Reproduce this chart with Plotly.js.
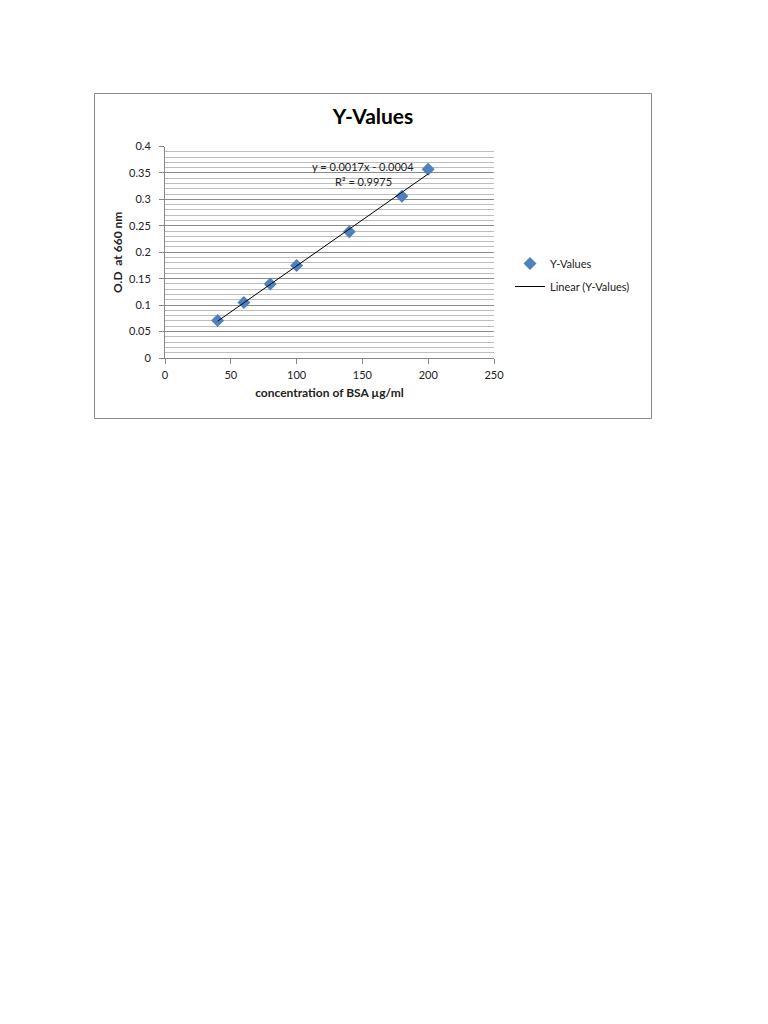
<!DOCTYPE html>
<html>
<head>
<meta charset="utf-8">
<script src="https://cdn.plot.ly/plotly-3.0.1.min.js"></script>
<style>html,body{margin:0;padding:0;background:#fff;}#chart{width:768px;height:1024px;}</style>
</head>
<body>
<div id="chart"></div>
<script>
const concentration = [40, 60, 80, 100, 140, 180, 200];
const odValues = [0.071, 0.105, 0.140, 0.175, 0.239, 0.306, 0.357];
const seriesName = 'Y-Values';
const trendName = 'Linear (Y-Values)';
const equationText = 'y = 0.0017x - 0.0004';
const r2Text = 'R² = 0.9975';
const xTicks = [0, 50, 100, 150, 200, 250];
const yTicks = [0, 0.05, 0.1, 0.15, 0.2, 0.25, 0.3, 0.35, 0.4];

// least-squares trendline from the data
const n = concentration.length;
const mx = concentration.reduce((a, b) => a + b, 0) / n;
const my = odValues.reduce((a, b) => a + b, 0) / n;
let sxy = 0, sxx = 0;
for (let i = 0; i < n; i++) { sxy += (concentration[i] - mx) * (odValues[i] - my); sxx += (concentration[i] - mx) ** 2; }
const slope = sxy / sxx, intercept = my - slope * mx;
const trendX = [concentration[0], concentration[n - 1]];
const trendY = trendX.map(x => slope * x + intercept);

const W = 768, H = 1024;
const px = v => v / W, py = v => 1 - v / H;
const FONT = 'Lato, "Open Sans", sans-serif';

const traces = [
  { x: concentration, y: odValues, type: 'scatter', mode: 'markers', name: seriesName, legendgroup: 'a',
    marker: { symbol: 'diamond', size: 10, color: '#4F81BD' } },
  { x: trendX, y: trendY, type: 'scatter', mode: 'lines', name: trendName, legendgroup: 'b',
    line: { color: '#000', width: 1 } }
];

const layout = {
  width: W, height: H, margin: { l: 0, r: 0, t: 0, b: 0 },
  paper_bgcolor: '#fff', plot_bgcolor: 'rgba(0,0,0,0)',
  font: { family: FONT, color: '#222', size: 11 },
  title: { text: '<b>Y-Values</b>', x: px(373), y: py(117), xanchor: 'center', yanchor: 'middle',
    xref: 'paper', yref: 'paper', font: { size: 21, family: FONT, color: '#000' } },
  xaxis: {
    domain: [px(165), px(494)], range: [0, 250], tickvals: xTicks, ticktext: xTicks.map(String),
    showgrid: false, zeroline: false, showline: true, linecolor: '#888', linewidth: 1,
    ticks: 'outside', ticklen: 5, tickcolor: '#888', ticklabelstandoff: 2, tickfont: { size: 11, color: '#222' },
    title: { text: '<b>concentration of BSA µg/ml</b>', font: { size: 12, color: '#222' }, standoff: 8 }
  },
  yaxis: {
    domain: [py(358), py(146.5)], range: [0, 0.4], tickvals: yTicks, ticktext: yTicks.map(String),
    showgrid: true, gridcolor: '#8c8c8c', gridwidth: 1, zeroline: false,
    showline: true, linecolor: '#888', linewidth: 1,
    ticks: 'outside', ticklen: 5, tickcolor: '#888', ticklabelstandoff: 6, tickfont: { size: 11, color: '#222' },
    minor: { dtick: 0.01, showgrid: true, gridcolor: '#bdbdbd', gridwidth: 1, ticks: '' },
    title: { text: '<b>O.D\u00A0\u00A0at 660 nm</b>', font: { size: 12, color: '#222' }, standoff: 3 }
  },
  showlegend: true,
  legend: { x: px(510), y: py(249), xanchor: 'left', yanchor: 'top', bgcolor: 'rgba(0,0,0,0)',
    tracegroupgap: 4, font: { size: 11, color: '#222' } },
  shapes: [
    { type: 'rect', xref: 'paper', yref: 'paper', x0: px(94.5), x1: px(651.5), y0: py(418.5), y1: py(93.5),
      line: { color: '#8a8a8a', width: 1 }, fillcolor: 'rgba(0,0,0,0)' }
  ],
  annotations: [
    { text: equationText, xref: 'paper', yref: 'paper', x: px(363), y: py(166), xanchor: 'center', yanchor: 'middle',
      showarrow: false, font: { size: 11, color: '#222' } },
    { text: r2Text, xref: 'paper', yref: 'paper', x: px(363), y: py(181), xanchor: 'center', yanchor: 'middle',
      showarrow: false, font: { size: 11, color: '#222' } }
  ]
};

Plotly.newPlot('chart', traces, layout, { displayModeBar: false, staticPlot: true });
</script>
</body>
</html>
